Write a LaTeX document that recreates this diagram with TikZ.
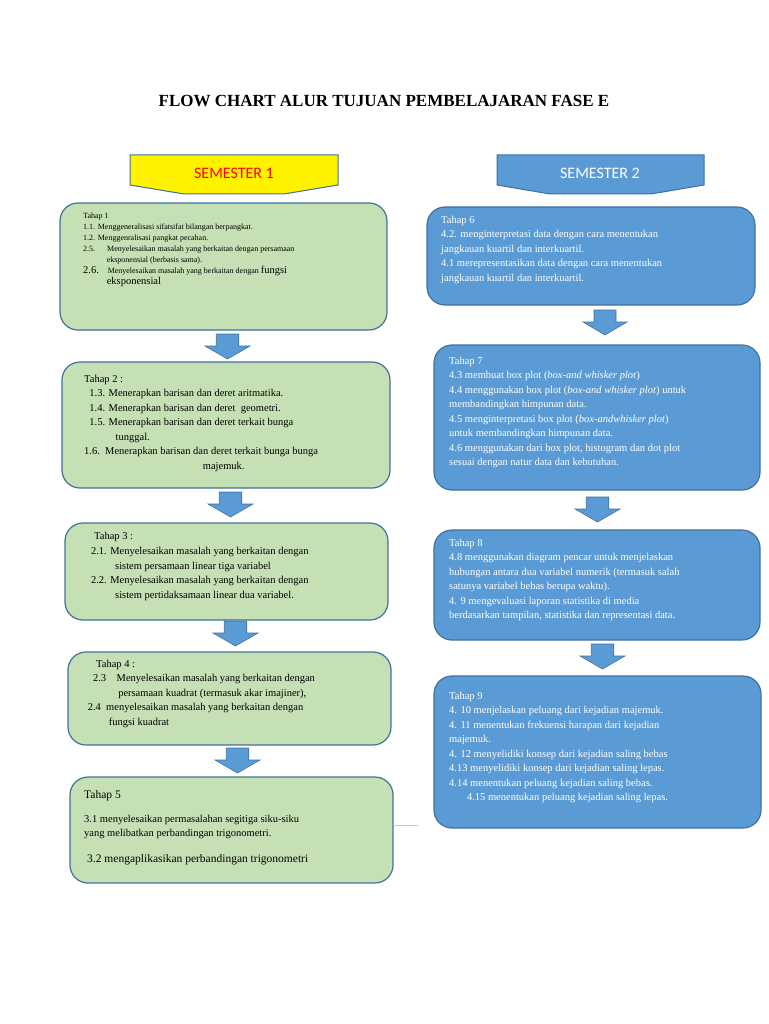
\documentclass[tikz,border=0pt]{standalone}
\usepackage{fontspec}
\setmainfont{Liberation Serif}
\newfontfamily\sansf{Carlito}
\usetikzlibrary{shapes.geometric}
\definecolor{gfill}{HTML}{C5E0B4}
\definecolor{bline}{HTML}{41719C}
\definecolor{bfill}{HTML}{5B9BD5}
\tikzset{
 gbox/.style={draw=bline,fill=gfill,line width=1.2pt,rounded corners=18pt},
 bbox/.style={draw=bline,fill=bfill,line width=1.2pt,rounded corners=18pt},
 txt/.style={anchor=north west,align=left,inner sep=0pt,font=\fontsize{10.5}{14.5}\selectfont},
 wtxt/.style={txt,text=white},
 darr/.style={draw=bline,fill=bfill,line width=0.6pt},
}
\newcommand{\downarr}[3]{% x-left, x-right, y-top ; height 25
 \pgfmathsetmacro{\xl}{#1}\pgfmathsetmacro{\xr}{#2}\pgfmathsetmacro{\xm}{(#1+#2)/2}
 \pgfmathsetmacro{\w}{(#2-#1)/4}
 \draw[darr] (\xm-\w,#3) -- (\xm+\w,#3) -- (\xm+\w,#3+12) -- (\xr,#3+12) -- (\xm,#3+25) -- (\xl,#3+12) -- (\xm-\w,#3+12) -- cycle;}
\begin{document}
\begin{tikzpicture}[x=1pt,y=-1pt]
\useasboundingbox[fill=white] (0,0) rectangle (768,1024);
\node[font=\bfseries\fontsize{17}{20}\selectfont] (title) at (384,101) {FLOW CHART ALUR TUJUAN PEMBELAJARAN FASE E};
% semester banners
\draw[draw=bline,fill=yellow,line width=1pt] (130,155) -- (338,155) -- (338,185) -- (284,194) -- (184,194) -- (130,185) -- cycle;
\node[text=red,font=\sansf\fontsize{16}{18}\selectfont] (s1) at (234,173) {SEMESTER 1};
\draw[draw=bline,fill=bfill,line width=1pt] (497,155) -- (704,155) -- (704,185) -- (651,194) -- (550,194) -- (497,185) -- cycle;
\node[text=white,font=\sansf\fontsize{16}{18}\selectfont] (s2) at (600,173) {SEMESTER 2};
% left column
\draw[gbox] (60,203) rectangle (387,330);
\node[txt,font=\fontsize{8}{11}\selectfont] (t1) at (83,213) {Tahap 1\\
1.1. Menggeneralisasi sifatsifat bilangan berpangkat.\\
1.2. Menggenralisasi pangkat pecahan.\\
2.5.\hspace{1.5em}Menyelesaikan masalah yang berkaitan dengan persamaan\\
\hspace{2.95em}eksponensial (berbasis sama).\\
{\fontsize{10.5}{13}\selectfont 2.6.}\hspace{1.1em}Menyelesaikan masalah yang berkaitan dengan {\fontsize{10.5}{13}\selectfont fungsi}\\
\hspace{2.95em}{\fontsize{10.5}{13}\selectfont eksponensial}};
\downarr{205}{250}{334}
\draw[gbox] (62,362) rectangle (390,488);
\node[txt] (t2) at (84,375) {Tahap 2 :\\
\hspace{0.5em}1.3. Menerapkan barisan dan deret aritmatika.\\
\hspace{0.5em}1.4. Menerapkan barisan dan deret\ \ geometri.\\
\hspace{0.5em}1.5. Menerapkan barisan dan deret terkait bunga\\
\hspace{3em}tunggal.\\
1.6.\ \ Menerapkan barisan dan deret terkait bunga bunga\\
\hspace{11.3em}majemuk.};
\downarr{208}{253}{492}
\draw[gbox] (65,523) rectangle (388,620);
\node[txt] (t3) at (94,532) {Tahap 3 :\\[1pt]
\hspace{-0.3em}2.1. Menyelesaikan masalah yang berkaitan dengan\\
\hspace{2em}sistem persamaan linear tiga variabel\\
\hspace{-0.3em}2.2. Menyelesaikan masalah yang berkaitan dengan\\
\hspace{2em}sistem pertidaksamaan linear dua variabel.};
\downarr{213}{258}{621}
\draw[gbox] (68,652) rectangle (391,745);
\node[txt] (t4) at (96,660) {Tahap 4 :\\
\hspace{-0.3em}2.3\hspace{1em}Menyelesaikan masalah yang berkaitan dengan\\
\hspace{2.1em}persamaan kuadrat (termasuk akar imajiner),\\
\hspace{-0.8em}2.4\ \ menyelesaikan masalah yang berkaitan dengan\\
\hspace{1.2em}fungsi kuadrat};
\downarr{215}{260}{748}
\draw[gbox] (70,777) rectangle (393,883);
\node[txt,font=\fontsize{11.5}{15}\selectfont] (t5a) at (84,790) {Tahap 5};
\node[txt] (t5b) at (84,815) {3.1 menyelesaikan permasalahan segitiga siku-siku\\
yang melibatkan perbandingan trigonometri.};
\node[txt,font=\fontsize{11.5}{15}\selectfont] (t5c) at (87,854) {3.2 mengaplikasikan perbandingan trigonometri};
\draw[color=bfill!50,line width=0.8pt] (393,825) -- (418,825);
% right column
\draw[bbox] (427,207) rectangle (755,305);
\node[wtxt] (t6) at (441,216) {Tahap 6\\
4.2. menginterpretasi data dengan cara menentukan\\
jangkauan kuartil dan interkuartil.\\
4.1 merepresentasikan data dengan cara menentukan\\
jangkauan kuartil dan interkuartil.};
\downarr{583}{627}{310}
\draw[bbox] (434,345) rectangle (760,490);
\node[wtxt] (t7) at (449,357) {Tahap 7\\
4.3 membuat box plot (\textit{box-and whisker plot})\\
4.4 menggunakan box plot (\textit{box-and whisker plot}) untuk\\
membandingkan himpunan data.\\
4.5 menginterpretasi box plot (\textit{box-andwhisker plot})\\
untuk membandingkan himpunan data.\\
4.6 menggunakan dari box plot, histogram dan dot plot\\
sesuai dengan natur data dan kebutuhan.};
\downarr{575}{620}{497}
\draw[bbox] (434,530) rectangle (760,640);
\node[wtxt] (t8) at (449,539) {Tahap 8\\
4.8 menggunakan diagram pencar untuk menjelaskan\\
hubungan antara dua variabel numerik (termasuk salah\\
satunya variabel bebas berupa waktu).\\
4. 9 mengevaluasi laporan statistika di media\\
berdasarkan tampilan, statistika dan representasi data.};
\downarr{580}{625}{644}
\draw[bbox] (434,676) rectangle (761,828);
\node[wtxt] (t9) at (449,692) {Tahap 9\\
4. 10 menjelaskan peluang dari kejadian majemuk.\\
4. 11 menentukan frekuensi harapan dari kejadian\\
majemuk.\\
4. 12 menyelidiki konsep dari kejadian saling bebas\\
4.13 menyelidiki konsep dari kejadian saling lepas.\\
4.14 menentukan peluang kejadian saling bebas.\\
\hspace{1.7em}4.15 menentukan peluang kejadian saling lepas.};
\end{tikzpicture}
\end{document}
